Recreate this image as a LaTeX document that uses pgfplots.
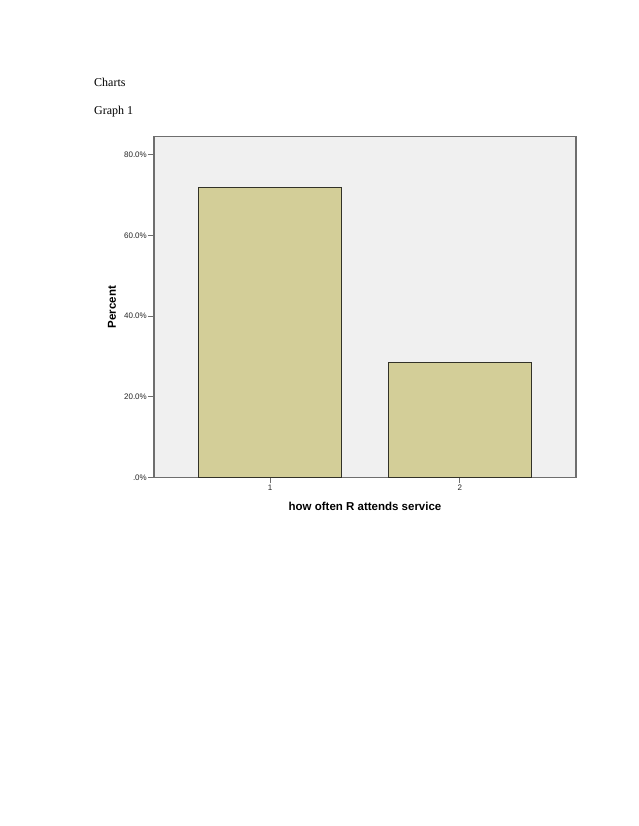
\documentclass[border=0pt]{standalone}
\usepackage{fontspec}
\setmainfont{Liberation Serif}
\setsansfont{Liberation Sans}
\usepackage{pgfplots}
\pgfplotsset{compat=1.18}

\definecolor{barfill}{RGB}{211,206,152}
\definecolor{plotbg}{RGB}{240,240,240}
\definecolor{frame}{RGB}{110,110,110}
\definecolor{bardraw}{RGB}{50,50,40}

\begin{document}
\begin{tikzpicture}[x=1pt,y=1pt]
  \useasboundingbox[fill=white] (0,0) rectangle (638,826);
  \node[anchor=base west, inner sep=0pt, font=\fontsize{12}{14}\selectfont] at (94,739.3) {Charts};
  \node[anchor=base west, inner sep=0pt, font=\fontsize{12}{14}\selectfont] at (94,711) {Graph\ 1};
  \begin{axis}[
      at={(154pt,348.7pt)}, anchor=south west,
      scale only axis,
      width=422pt, height=340.6pt,
      ybar, bar width=143pt,
      xmin=0.389, xmax=2.611,
      ymin=0, ymax=84.5,
      xtick={1,2}, xticklabels={1,2},
      ytick={0,20,40,60,80},
      yticklabels={.0\%,20.0\%,40.0\%,60.0\%,80.0\%},
      tick pos=left,
      tick align=outside,
      major tick length=6pt,
      tick style={color=frame, line width=1pt},
      axis line style={color=frame, line width=1.3pt},
      axis background/.style={fill=plotbg},
      ticklabel style={font=\sffamily\fontsize{8}{9}\selectfont, color=black!85},
      yticklabel style={inner sep=1pt},
      xticklabel style={inner sep=1.5pt},
      xlabel={how often R attends service},
      ylabel={Percent},
      label style={font=\sffamily\bfseries\fontsize{11.5}{13}\selectfont},
      xlabel style={at={(axis description cs:0.5,-0.084)}, anchor=center},
      ylabel style={at={(axis description cs:-0.0995,0.5)}, anchor=center},
    ]
    \addplot[fill=barfill, draw=bardraw, line width=0.9pt] coordinates {
      (1,71.8)
      (2,28.6)
    };
  \end{axis}
\end{tikzpicture}
\end{document}
